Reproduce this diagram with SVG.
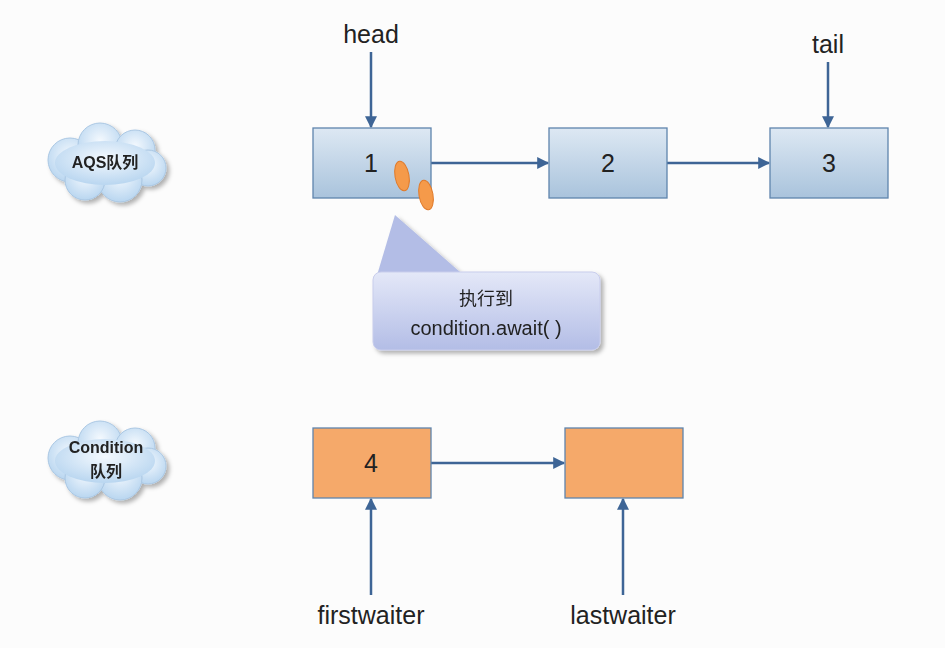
<svg xmlns="http://www.w3.org/2000/svg" width="945" height="648" viewBox="0 0 945 648">
<defs>
<linearGradient id="bg" x1="0" y1="0" x2="0" y2="1"><stop offset="0" stop-color="#dde8f3"/><stop offset="1" stop-color="#a9c3dc"/></linearGradient>
<linearGradient id="cb" x1="0" y1="0" x2="0" y2="1"><stop offset="0" stop-color="#e4e8f8"/><stop offset="1" stop-color="#b3bde6"/></linearGradient>
<radialGradient id="cl" cx="0.5" cy="0.4" r="0.6"><stop offset="0" stop-color="#f4f9fe"/><stop offset="1" stop-color="#b9d6f0"/></radialGradient>
<marker id="ah" viewBox="0 0 10 10" refX="9" refY="5" markerWidth="14" markerHeight="12" markerUnits="userSpaceOnUse" orient="auto"><path d="M0,0 L10,5 L0,10 z" fill="#3e6596"/></marker>
<filter id="sh" x="-20%" y="-20%" width="150%" height="150%"><feDropShadow dx="3" dy="3" stdDeviation="2" flood-color="#000" flood-opacity="0.3"/></filter>
</defs>
<style>
.b{fill:url(#bg);stroke:#5f84ad;stroke-width:1.3}
.o{fill:#f5a96a;stroke:#5f84ad;stroke-width:1.3}
.t{font-family:"Liberation Sans",Arial,sans-serif;font-size:25px;fill:#222;text-anchor:middle}
.c{font-family:"Liberation Sans","Noto Sans CJK SC",sans-serif;font-size:16px;font-weight:bold;fill:#222;text-anchor:middle}
.k{fill:url(#cl);stroke:#aac7e3;stroke-width:1}
.e{stroke:#3e6596;stroke-width:2.5;fill:none;marker-end:url(#ah)}
</style>
<rect width="945" height="648" fill="#fcfcfc"/>
<g id="connectors">
<line class="e" x1="371" y1="52" x2="371" y2="127"/>
<line class="e" x1="828" y1="62" x2="828" y2="127"/>
<line class="e" x1="431" y1="163" x2="548" y2="163"/>
<line class="e" x1="667" y1="163" x2="769" y2="163"/>
<line class="e" x1="431" y1="463" x2="564" y2="463"/>
<line class="e" x1="371" y1="595" x2="371" y2="499"/>
<line class="e" x1="623" y1="595" x2="623" y2="499"/>
</g>
<g id="cloud1" filter="url(#sh)">
<g class="k"><circle cx="70" cy="160" r="22"/><circle cx="100" cy="145" r="22"/><circle cx="135" cy="150" r="20"/><circle cx="148" cy="168" r="18"/><circle cx="120" cy="180" r="22"/><circle cx="85" cy="180" r="20"/><ellipse cx="105" cy="163" rx="50" ry="22" stroke="none"/></g>
<text class="c" x="105" y="168">AQS队列</text>
</g>
<g id="cloud2" filter="url(#sh)">
<g class="k"><circle cx="70" cy="458" r="22"/><circle cx="100" cy="443" r="22"/><circle cx="135" cy="448" r="20"/><circle cx="148" cy="466" r="18"/><circle cx="120" cy="478" r="22"/><circle cx="85" cy="478" r="20"/><ellipse cx="105" cy="461" rx="50" ry="22" stroke="none"/></g>
<text class="c" x="106" y="453">Condition</text><text class="c" x="106" y="477">队列</text>
</g>
<g id="head"><text class="t" x="371" y="43">head</text></g>
<g id="tail"><text class="t" x="828" y="53">tail</text></g>
<g id="n1"><rect class="b" x="313" y="128" width="118" height="70"/><text class="t" x="371" y="172">1</text></g>
<g id="n2"><rect class="b" x="549" y="128" width="118" height="70"/><text class="t" x="608" y="172">2</text></g>
<g id="n3"><rect class="b" x="770" y="128" width="118" height="70"/><text class="t" x="829" y="172">3</text></g>
<g id="feet" fill="#f59a4a" stroke="#e07a2a" stroke-width="1">
<ellipse cx="402" cy="176" rx="7" ry="15" transform="rotate(-10 402 176)"/>
<ellipse cx="426" cy="195" rx="7" ry="15" transform="rotate(-10 426 195)"/>
</g>
<g id="callout" filter="url(#sh)">
<path d="M395,215 L460,272 L378,272 Z" fill="#b3bde6"/>
<rect x="373" y="272" width="227" height="78" rx="8" fill="url(#cb)" stroke="#c8cdec"/>
<text class="t" x="486" y="305" style="font-size:18px;font-family:'Noto Sans CJK SC',sans-serif">执行到</text>
<text class="t" x="486" y="335" style="font-size:20px">condition.await( )</text>
</g>
<g id="n4"><rect class="o" x="313" y="428" width="118" height="70"/><text class="t" x="371" y="472">4</text></g>
<g id="n5"><rect class="o" x="565" y="428" width="118" height="70"/></g>
<g id="fw"><text class="t" x="371" y="624">firstwaiter</text></g>
<g id="lw"><text class="t" x="623" y="624">lastwaiter</text></g>
</svg>
